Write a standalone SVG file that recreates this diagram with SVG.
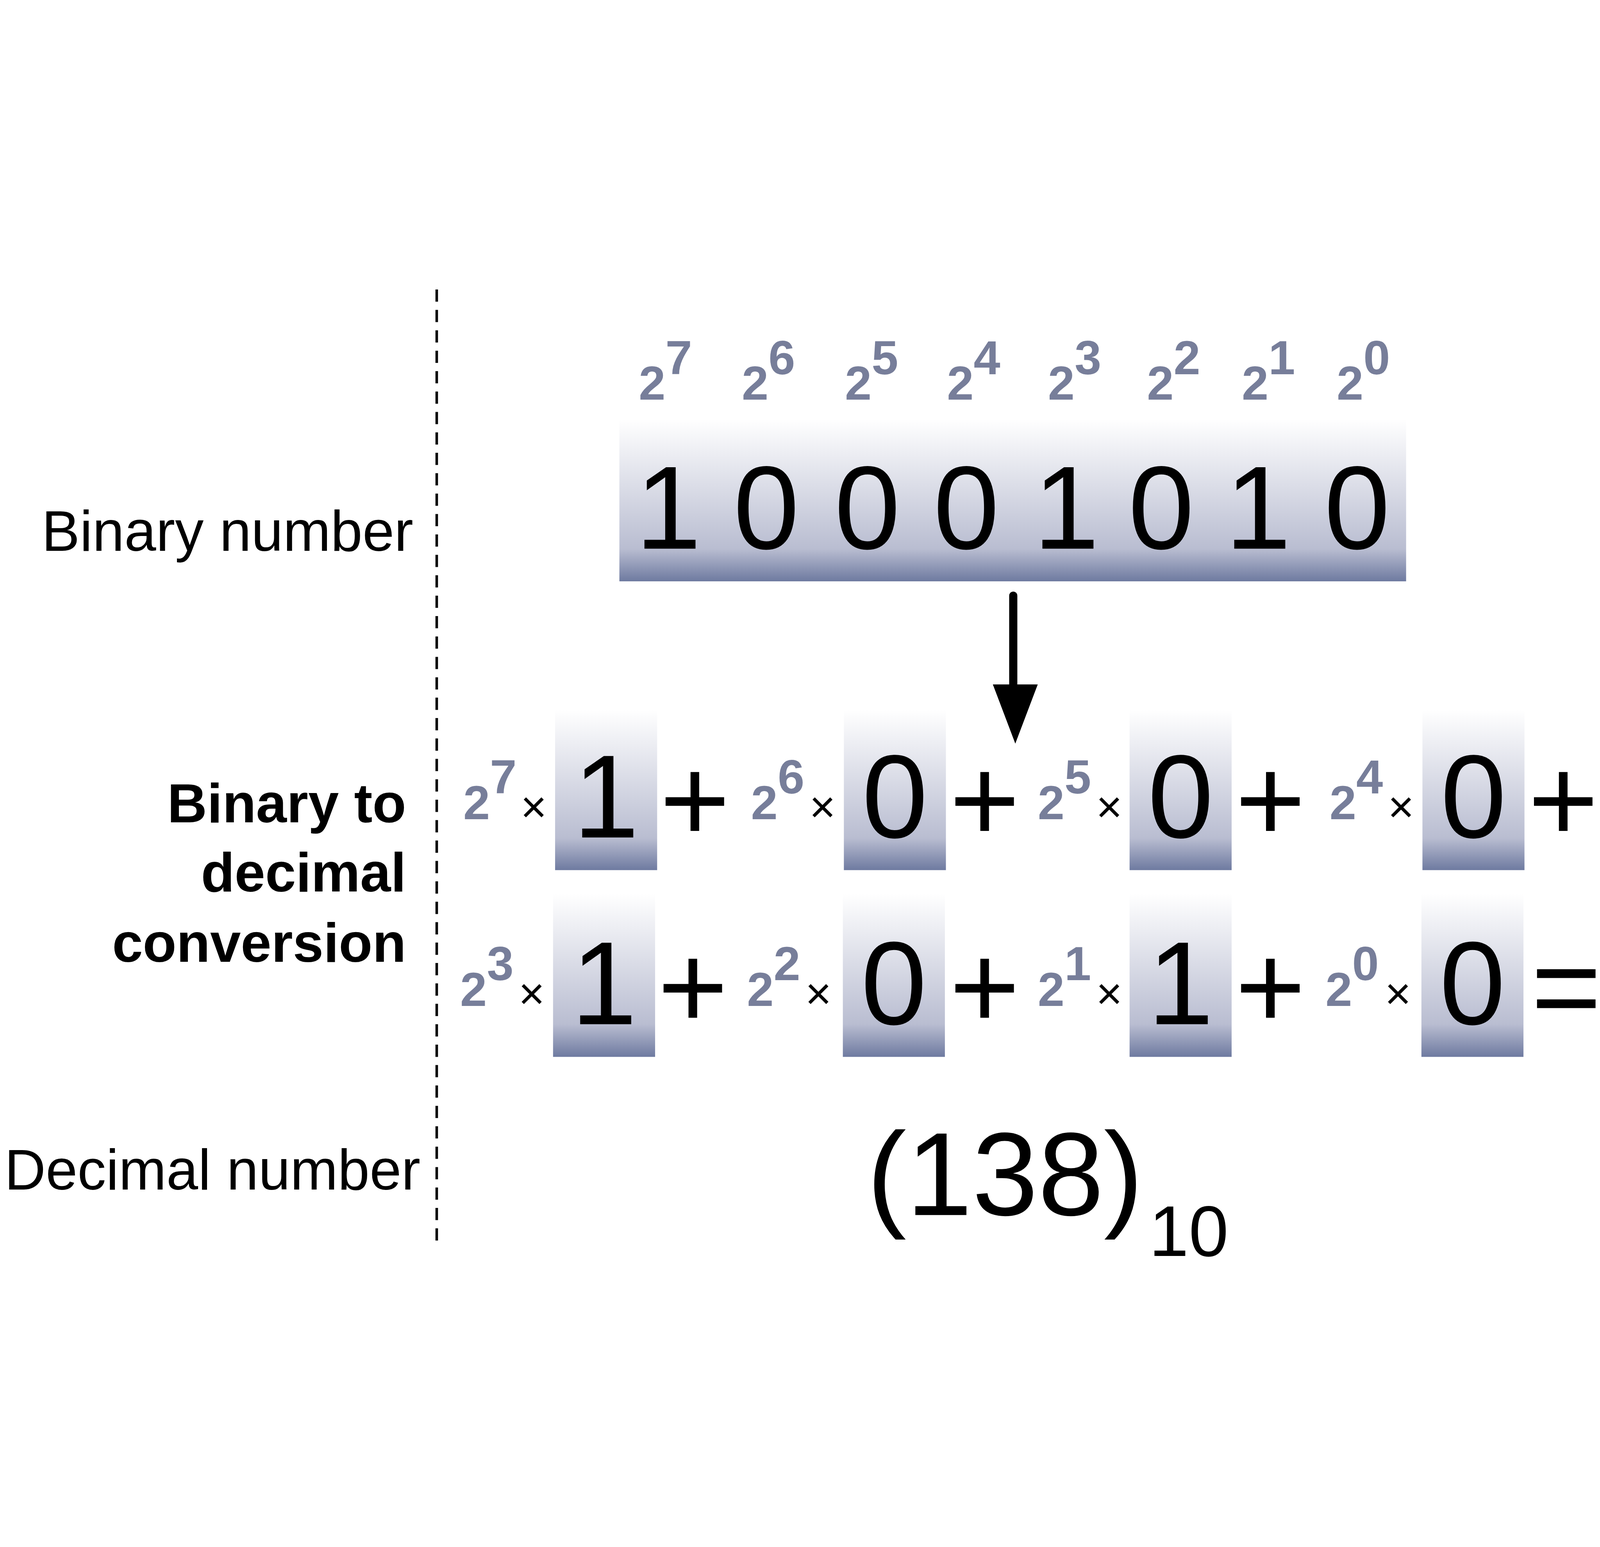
<svg xmlns="http://www.w3.org/2000/svg" width="6437" height="3960" viewBox="0 0 6437 3960" preserveAspectRatio="xMidYMid meet" style="width:100vw;height:100vh;display:block">
<style>
.lab{font-family:"Liberation Sans",Arial,sans-serif;font-size:56px;fill:#000}
.bold{font-family:"Liberation Sans",Arial,sans-serif;font-size:54px;font-weight:bold;fill:#000;text-anchor:end}
.dg{font-family:"Liberation Sans",Arial,sans-serif;font-size:116px;fill:#000;text-anchor:middle}
.op{font-family:"Liberation Sans",Arial,sans-serif;font-size:118px;fill:#000;text-anchor:middle}
.pw{font-family:"Liberation Sans",Arial,sans-serif;font-size:47px;font-weight:bold;fill:#777e9a}
.x{font-family:"Liberation Sans",Arial,sans-serif;font-size:44px;fill:#000;text-anchor:middle}
.box{fill:url(#g)}
</style>
<defs>
<linearGradient id="g" x1="0" y1="0" x2="0" y2="1">
<stop offset="0" stop-color="#ffffff"/>
<stop offset="0.8" stop-color="#b9bdd1"/>
<stop offset="1" stop-color="#6e7aa0"/>
</linearGradient>
</defs>
<rect width="6437" height="3960" fill="#fff"/>
<g transform="scale(4.1052)">
<g id="labels">
<text class="lab" x="405" y="264" text-anchor="end">Binary number</text>
<text class="bold" x="398" y="530">Binary to</text>
<text class="bold" x="398" y="598">decimal</text>
<text class="bold" x="398" y="667">conversion</text>
<text class="lab" x="412" y="890" text-anchor="end">Decimal number</text>
</g>
<g id="powers-top">
<text class="pw" x="626" y="116">2<tspan dy="-25">7</tspan></text>
<text class="pw" x="727" y="116">2<tspan dy="-25">6</tspan></text>
<text class="pw" x="828" y="116">2<tspan dy="-25">5</tspan></text>
<text class="pw" x="928" y="116">2<tspan dy="-25">4</tspan></text>
<text class="pw" x="1027" y="116">2<tspan dy="-25">3</tspan></text>
<text class="pw" x="1124" y="116">2<tspan dy="-25">2</tspan></text>
<text class="pw" x="1217" y="116">2<tspan dy="-25">1</tspan></text>
<text class="pw" x="1310" y="116">2<tspan dy="-25">0</tspan></text>
</g>
<g id="binary-box">
<rect class="box" x="607" y="135" width="771" height="159"/>
<text class="dg" y="262"><tspan x="655">1</tspan><tspan x="751">0</tspan><tspan x="850">0</tspan><tspan x="947">0</tspan><tspan x="1045">1</tspan><tspan x="1138">0</tspan><tspan x="1233">1</tspan><tspan x="1330">0</tspan></text>
</g>
<g id="row1">
<rect class="box" x="544" y="420" width="100" height="157"/>
<rect class="box" x="827" y="420" width="100" height="157"/>
<rect class="box" x="1107" y="420" width="100" height="157"/>
<rect class="box" x="1394" y="420" width="100" height="157"/>
<text class="pw" x="454" y="527">2<tspan dy="-25">7</tspan></text>
<text class="pw" x="736" y="527">2<tspan dy="-25">6</tspan></text>
<text class="pw" x="1017" y="527">2<tspan dy="-25">5</tspan></text>
<text class="pw" x="1303" y="527">2<tspan dy="-25">4</tspan></text>
<text class="x" x="523" y="530">×</text><text class="x" x="806" y="530">×</text><text class="x" x="1087" y="530">×</text><text class="x" x="1373" y="530">×</text>
<text class="dg" y="545"><tspan x="594">1</tspan><tspan x="877">0</tspan><tspan x="1157">0</tspan><tspan x="1444">0</tspan></text>
<text class="op" y="549"><tspan x="681">+</tspan><tspan x="965">+</tspan><tspan x="1245">+</tspan><tspan x="1532">+</tspan></text>
</g>
<g id="row2">
<rect class="box" x="542" y="600" width="100" height="160"/>
<rect class="box" x="826" y="600" width="100" height="160"/>
<rect class="box" x="1107" y="600" width="100" height="160"/>
<rect class="box" x="1393" y="600" width="100" height="160"/>
<text class="pw" x="451" y="710">2<tspan dy="-25">3</tspan></text>
<text class="pw" x="732" y="710">2<tspan dy="-25">2</tspan></text>
<text class="pw" x="1017" y="710">2<tspan dy="-25">1</tspan></text>
<text class="pw" x="1299" y="710">2<tspan dy="-25">0</tspan></text>
<text class="x" x="521" y="713">×</text><text class="x" x="802" y="713">×</text><text class="x" x="1087" y="713">×</text><text class="x" x="1370" y="713">×</text>
<text class="dg" y="728"><tspan x="592">1</tspan><tspan x="876">0</tspan><tspan x="1157">1</tspan><tspan x="1443">0</tspan></text>
<text class="op" y="732"><tspan x="679">+</tspan><tspan x="965">+</tspan><tspan x="1245">+</tspan><tspan x="1535">=</tspan></text>
</g>
<g id="result">
<text class="dg" x="985" y="915">(138)</text>
<text class="op" x="1165" y="955" style="font-size:70px">10</text>
</g>
<g id="connectors">
<line x1="428" y1="8" x2="428" y2="945" stroke="#000" stroke-width="2.5" stroke-dasharray="12 8"/>
<line x1="993" y1="308" x2="993" y2="400" stroke="#000" stroke-width="8" stroke-linecap="round"/>
<polygon points="973,395 1017,395 995,453" fill="#000"/>
</g>
</g>
</svg>
